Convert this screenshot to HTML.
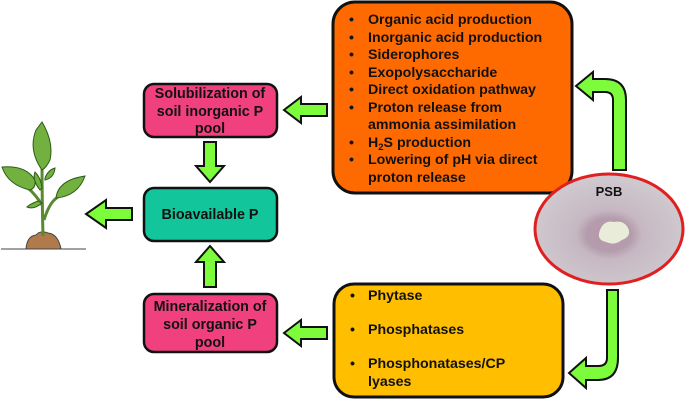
<!DOCTYPE html>
<html><head><style>
html,body{margin:0;padding:0;background:#fff;}
svg text{font-family:"Liberation Sans",Arial,sans-serif;font-weight:bold;fill:#111;}
</style></head><body>
<svg width="685" height="412" viewBox="0 0 685 412" xmlns="http://www.w3.org/2000/svg">
<defs>
<radialGradient id="plate" cx="0.5" cy="0.55" r="0.5">
<stop offset="0" stop-color="#b898aa"/><stop offset="0.3" stop-color="#b49cac"/><stop offset="0.45" stop-color="#c6b8c2"/><stop offset="1" stop-color="#cfc8ce"/>
</radialGradient>
</defs>
<!-- orange box -->
<rect x="333" y="2" width="239" height="191" rx="22" fill="#ff6a00" stroke="#111" stroke-width="3"/>
<g font-size="14.2">
<text x="349" y="24">•</text><text x="368" y="24">Organic acid production</text>
<text x="349" y="42">•</text><text x="368" y="42">Inorganic acid production</text>
<text x="349" y="59">•</text><text x="368" y="59">Siderophores</text>
<text x="349" y="77">•</text><text x="368" y="77">Exopolysaccharide</text>
<text x="349" y="94">•</text><text x="368" y="94">Direct oxidation pathway</text>
<text x="349" y="112">•</text><text x="368" y="112">Proton release from</text>
<text x="368" y="129">ammonia assimilation</text>
<text x="349" y="147">•</text><text x="368" y="147">H<tspan font-size="9.5" dy="3">2</tspan><tspan dy="-3">S production</tspan></text>
<text x="349" y="164">•</text><text x="368" y="164">Lowering of pH via direct</text>
<text x="368" y="182">proton release</text>
</g>
<!-- yellow box -->
<rect x="334" y="284" width="229" height="113" rx="20" fill="#ffbf00" stroke="#111" stroke-width="3"/>
<g font-size="14.2">
<text x="350" y="300">•</text><text x="368" y="300">Phytase</text>
<text x="350" y="334">•</text><text x="368" y="334">Phosphatases</text>
<text x="350" y="368">•</text><text x="368" y="368">Phosphonatases/CP</text>
<text x="368" y="386">lyases</text>
</g>
<!-- pink/teal boxes -->
<rect x="144" y="84" width="133" height="53" rx="10" fill="#f0407e" stroke="#111" stroke-width="2.5"/>
<g font-size="14.3" text-anchor="middle">
<text x="210" y="98">Solubilization of</text><text x="210" y="116">soil inorganic P</text><text x="210" y="133">pool</text>
</g>
<rect x="144" y="188" width="133" height="53" rx="10" fill="#12c59a" stroke="#111" stroke-width="2.5"/>
<text x="210" y="219" font-size="14.3" text-anchor="middle">Bioavailable P</text>
<rect x="144" y="294" width="133" height="58" rx="10" fill="#f0407e" stroke="#111" stroke-width="2.5"/>
<g font-size="14.3" text-anchor="middle">
<text x="210" y="311">Mineralization of</text><text x="210" y="329">soil organic P</text><text x="210" y="347">pool</text>
</g>
<!-- straight arrows -->
<g fill="#7cfc3a" stroke="#111" stroke-width="2" stroke-linejoin="miter">
<polygon points="327,104 301,104 301,97 284,110 301,123 301,116 327,116"/>
<polygon points="327,327 301,327 301,320 284,333 301,346 301,339 327,339"/>
<polygon points="204,142 216,142 216,166 224,166 210,182 196,166 204,166"/>
<polygon points="204,287 216,287 216,262 224,262 210,246 196,262 204,262"/>
<polygon points="132,208 106,208 106,200 86,214 106,228 106,220 132,220"/>
<path d="M613,170 L626,170 L626,100 Q626,79 605,79 L593,79 L593,72 L576,86 L593,100 L593,92 L605,92 Q613,92 613,100 Z"/>
<path d="M607,290 L618,290 L618,358 Q618,380 598,380 L586,380 L586,388 L569,373 L586,358 L586,366 L598,366 Q607,366 607,358 Z"/>
</g>
<!-- plate -->
<ellipse cx="609" cy="229" rx="74" ry="55" fill="url(#plate)" stroke="#e02020" stroke-width="3"/>
<path d="M600,230 q4,-10 14,-8 q10,-2 14,6 q4,8 -6,12 q-8,6 -16,2 q-10,-2 -6,-12z" fill="#e8ecd8"/>
<text x="609" y="196" font-size="13" text-anchor="middle">PSB</text>
<!-- plant -->
<line x1="1" y1="249" x2="86" y2="249" stroke="#444" stroke-width="1"/>
<path d="M26,249 Q27,236 36,235 Q40,230 48,233 Q58,234 61,249 Z" fill="#b07a4a" stroke="#444" stroke-width="1"/>
<g stroke="#2d5a1a" stroke-width="1" fill="#72b040">
<path d="M43,236 Q42,200 42,157" fill="none" stroke="#5a8a30" stroke-width="3"/>
<path d="M44,220 Q50,200 60,196" fill="none" stroke="#5a8a30" stroke-width="3"/>
<path d="M42,205 Q36,195 28,188" fill="none" stroke="#5a8a30" stroke-width="3"/>
<path d="M42,170 Q28,150 36,130 L42,122 Q54,142 50,160 Q46,168 42,170Z"/>
<path d="M30,190 Q8,185 2,167 Q26,165 35,180 Q36,188 30,190Z"/>
<path d="M56,198 Q58,180 85,176 Q78,196 56,198 Z"/>
<path d="M45,178 Q48,170 55,168 Q54,178 45,180Z"/>
<path d="M38,201 Q30,204 27,207 Q34,210 42,203Z"/>
<path d="M40,190 Q32,180 35,172 Q41,178 42,188Z"/>
</g>
</svg>
</body></html>
